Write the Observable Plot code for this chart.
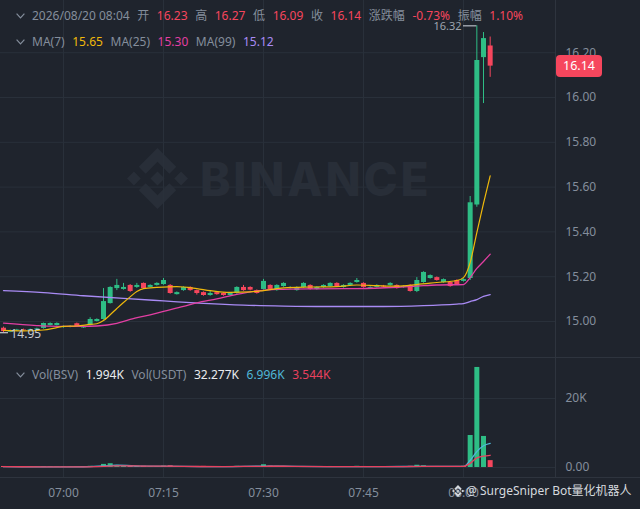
<!DOCTYPE html>
<html><head><meta charset="utf-8">
<script src="https://cdn.jsdelivr.net/npm/d3@7"></script>
<script src="https://cdn.jsdelivr.net/npm/@observablehq/plot@0.6"></script>
<style>
body{margin:0;background:#1F242D;}
#root{position:relative;width:640px;height:509px;overflow:hidden;background:#1F242D;font-family:"Noto Sans","Noto Sans CJK SC",sans-serif;}
.abs{position:absolute;}
.row{position:absolute;left:0;display:flex;align-items:center;font-size:12px;line-height:16px;white-space:nowrap;}
.row span{margin-right:7.6px}
.g{color:#848E9C}
</style></head>
<body><div id="root"></div>
<script>
// ---------- data ----------
const startTime = Date.UTC(2026, 7, 20, 6, 51); // first candle 06:51
const opens  = [14.970,14.952,14.958,14.962,14.959,14.963,14.969,14.982,14.982,14.973,14.974,14.990,14.971,14.982,15.000,15.009,15.080,15.147,15.143,15.161,15.152,15.170,15.152,15.161,15.165,15.161,15.120,15.138,15.152,15.138,15.129,15.116,15.129,15.125,15.116,15.125,15.152,15.152,15.138,15.143,15.161,15.138,15.156,15.148,15.138,15.152,15.161,15.143,15.152,15.156,15.170,15.152,15.161,15.174,15.170,15.148,15.152,15.158,15.161,15.161,15.152,15.161,15.134,15.174,15.192,15.196,15.174,15.174,15.183,15.179,15.192,15.520,16.178,16.230];
const highs  = [14.975,14.962,14.965,14.966,14.966,14.970,14.993,14.994,14.994,14.980,14.980,14.993,14.979,15.017,15.012,15.147,15.155,15.188,15.170,15.165,15.170,15.172,15.164,15.173,15.192,15.165,15.132,15.155,15.155,15.140,15.132,15.138,15.132,15.128,15.128,15.155,15.161,15.155,15.141,15.188,15.164,15.164,15.173,15.155,15.155,15.173,15.164,15.155,15.164,15.173,15.173,15.164,15.173,15.192,15.173,15.155,15.164,15.161,15.173,15.164,15.159,15.164,15.196,15.222,15.208,15.199,15.190,15.177,15.186,15.190,15.558,16.320,16.290,16.270];
const lows   = [14.950,14.950,14.955,14.956,14.956,14.960,14.966,14.980,14.980,14.970,14.972,14.976,14.969,14.980,14.998,15.006,15.078,15.138,15.140,15.130,15.148,15.145,15.150,15.158,15.162,15.122,15.118,15.135,15.135,15.118,15.113,15.113,15.117,15.113,15.113,15.122,15.135,15.137,15.122,15.140,15.140,15.135,15.153,15.145,15.135,15.149,15.140,15.140,15.149,15.153,15.153,15.149,15.158,15.171,15.149,15.145,15.149,15.151,15.158,15.144,15.149,15.131,15.129,15.171,15.189,15.180,15.171,15.153,15.162,15.176,15.183,15.510,15.973,16.090];
const closes = [14.955,14.958,14.962,14.959,14.963,14.967,14.991,14.991,14.991,14.978,14.978,14.978,14.977,15.009,15.009,15.089,15.152,15.161,15.152,15.134,15.161,15.147,15.161,15.170,15.183,15.125,15.129,15.152,15.138,15.125,15.116,15.125,15.120,15.116,15.125,15.152,15.138,15.140,15.125,15.179,15.143,15.161,15.170,15.152,15.152,15.170,15.143,15.152,15.161,15.170,15.156,15.161,15.170,15.183,15.152,15.152,15.161,15.154,15.170,15.147,15.156,15.134,15.183,15.219,15.205,15.183,15.187,15.156,15.165,15.187,15.530,16.165,16.263,16.140];
const volumes = [300,200,150,180,220,160,250,200,180,150,120,200,180,350,300,900,1100,600,400,450,300,350,250,280,400,500,300,250,280,300,320,250,200,260,220,350,300,280,300,800,400,350,300,200,250,300,280,220,250,300,260,200,250,350,300,200,250,180,250,300,150,350,650,500,250,300,250,280,300,350,9280,29000,9000,1994];

// moving-average lines (minutes after 07:00, value)
const ma7Min  = [-9,-6,-3,-1,0,2,4,5,6,7,8,9,10,11,12,14,17,20,22,25,28,30,33,37,41,44,47,50,53,56,59,60,61,62,63,64];
const ma7Val  = [14.960,14.958,14.962,14.973,14.978,14.980,14.987,14.990,15.004,15.030,15.058,15.085,15.110,15.134,15.147,15.152,15.156,15.147,15.138,15.130,15.132,15.138,15.150,15.154,15.156,15.163,15.160,15.158,15.165,15.174,15.183,15.196,15.263,15.397,15.527,15.650];
const ma25Min = [-9,-4,-2,0,3,5,8,10,13,15,18,20,23,26,29,32,38,44,50,53,56,60,61,62,63,64];
const ma25Val = [14.993,14.982,14.979,14.978,14.978,14.980,14.992,15.009,15.030,15.045,15.067,15.083,15.101,15.121,15.136,15.143,15.146,15.147,15.153,15.158,15.163,15.165,15.196,15.237,15.268,15.300];
const ma99Min = [-9,-3,3,9,15,21,27,33,39,48,54,59,60,61,62,63,64];
const ma99Val = [15.138,15.129,15.115,15.103,15.092,15.081,15.073,15.069,15.067,15.067,15.071,15.078,15.080,15.089,15.098,15.112,15.120];
const volMaMin  = [-9,-3,3,6,8,12,18,24,30,33,40,48,54,60,61,62,63,64];
const volMa5Val  = [230,200,220,450,650,380,300,260,420,380,260,240,330,300,2100,4600,6300,6996];
const volMa10Val = [240,210,210,330,480,420,320,270,350,360,280,250,300,300,1200,2800,3300,3544];

const priceTicks = [15.0,15.2,15.4,15.6,15.8,16.0,16.2];
const volTicks = [0, 20000];
const timeTickMin = [0,15,30,45,60];

const header1 = [["2026/08/20 08:04",null],["开","16.23"],["高","16.27"],["低","16.09"],["收","16.14"],["涨跌幅","-0.73%"],["振幅","1.10%"]];
const header2 = [["MA(7)","15.65","#F0B90B"],["MA(25)","15.30","#E23FA3"],["MA(99)","15.12","#A98BF5"]];
const header3 = [["Vol(BSV)","1.994K","#EAECEF"],["Vol(USDT)","32.277K","#EAECEF"],[null,"6.996K","#4FB8D8"],[null,"3.544K","#E8415F"]];

// ---------- build ----------
const UP = "#2EBD85", DOWN = "#F6465D", GRID = "#29303A", SEP = "#2E343E", AXIS = "#848E9C";
const FONT = '"Noto Sans","Noto Sans CJK SC",sans-serif';
const base = Date.UTC(2026, 7, 20, 7, 0);
const tm = m => new Date(base + m * 60000);
const candles = opens.map((o, i) => ({
  time: new Date(startTime + i * 60000), open: o, high: highs[i], low: lows[i], close: closes[i], vol: volumes[i],
  color: closes[i] >= o ? UP : DOWN
}));
const toPts = (ms, vs) => ms.map((m, i) => ({time: tm(m), v: vs[i]}));
const ma7 = toPts(ma7Min, ma7Val), ma25 = toPts(ma25Min, ma25Val), ma99 = toPts(ma99Min, ma99Val);
const vma5 = toPts(volMaMin, volMa5Val), vma10 = toPts(volMaMin, volMa10Val);
const timeTicks = timeTickMin.map(tm);
const xDomain = [tm(-9.45), tm(73.8)];

const hiIdx = d3.maxIndex(candles, d => d.high), loIdx = d3.minIndex(candles, d => d.low);
const hi = candles[hiIdx], lo = candles[loIdx];
const hiT = (hi.time - base) / 60000, loT = (lo.time - base) / 60000;

const root = document.getElementById("root");

// watermark
const wm = document.createElement("div");
wm.className = "abs";
wm.style.cssText = "left:127px;top:148px;display:flex;align-items:center;";
wm.innerHTML = `<svg width="61" height="61" viewBox="0 0 126.61 126.61"><g fill="#282E38"><path d="M38.73 53.2L63.3 28.63l24.59 24.58 14.3-14.3L63.3 0 24.43 38.9z"/><path d="M0 63.31l14.3-14.3 14.3 14.3-14.3 14.3z"/><path d="M38.73 73.41L63.3 97.99l24.59-24.59 14.31 14.29-38.9 38.91-38.88-38.88z"/><path d="M97.99 63.31l14.3-14.3 14.3 14.3-14.3 14.3z"/><path d="M77.83 63.3L63.3 48.76 48.77 63.29 63.3 77.82z"/></g></svg><span style="margin-left:12px;font-family:Inter,Roboto,sans-serif;font-weight:800;font-size:46px;letter-spacing:2.8px;color:#282E38;line-height:60px">BINANCE</span>`;
root.appendChild(wm);

const price = Plot.plot({
  width: 640, height: 357,
  marginTop: 0, marginBottom: 0, marginLeft: 0, marginRight: 85,
  style: {background: "transparent", color: AXIS, fontFamily: FONT, fontSize: "12px", overflow: "visible"},
  x: {type: "utc", domain: xDomain, axis: null},
  y: {domain: [15, 16.2], range: [321, 52.2], axis: null},
  marks: [
    Plot.gridX(timeTicks, {stroke: GRID, strokeOpacity: 1}),
    Plot.gridY(priceTicks, {stroke: GRID, strokeOpacity: 1}),
    Plot.axisY(priceTicks, {anchor: "right", tickSize: 0, tickPadding: 10, tickFormat: d3.format(".2f"), fill: AXIS, fontSize: 12}),
    Plot.ruleX(candles, {x: "time", y1: "low", y2: "high", stroke: "color", strokeWidth: 1}),
    Plot.ruleX(candles, {x: "time", y1: "open", y2: "close", stroke: "color", strokeWidth: 5}),
    Plot.line(ma99, {x: "time", y: "v", stroke: "#A98BF5", strokeWidth: 1.3, curve: "monotone-x"}),
    Plot.line(ma25, {x: "time", y: "v", stroke: "#E23FA3", strokeWidth: 1.3, curve: "monotone-x"}),
    Plot.line(ma7, {x: "time", y: "v", stroke: "#F0B90B", strokeWidth: 1.2, curve: "monotone-x"}),
    Plot.ruleY([hi], {y: "high", x1: () => tm(hiT - 2), x2: "time", stroke: "#B7BDC6", strokeWidth: 1.2}),
    Plot.text([hi], {x: () => tm(hiT - 2), y: "high", text: d => d.high.toFixed(2), textAnchor: "end", dx: -2, dy: 1, fill: "#9EA5AF", fontSize: 11}),
    Plot.ruleY([lo], {y: "low", x1: () => tm(loT - 0.5), x2: () => tm(loT + 0.75), stroke: "#C7CBD1", strokeWidth: 1.2}),
    Plot.text([lo], {x: () => tm(loT + 0.75), y: "low", text: d => d.low.toFixed(2), textAnchor: "start", dx: 2, dy: 1.5, fill: "#C7CBD1", fontSize: 12})
  ]
});
price.style.position = "absolute"; price.style.left = "0px"; price.style.top = "0px";
root.appendChild(price);

const vol = Plot.plot({
  width: 640, height: 152,
  marginTop: 0, marginBottom: 31, marginLeft: 0, marginRight: 85,
  style: {background: "transparent", color: AXIS, fontFamily: FONT, fontSize: "12px", overflow: "visible"},
  x: {type: "utc", domain: xDomain, axis: null},
  y: {domain: [0, 20000], range: [110, 41], axis: null},
  marks: [
    Plot.gridX(timeTicks, {stroke: GRID, strokeOpacity: 1}),
    Plot.gridY(volTicks, {stroke: GRID, strokeOpacity: 1}),
    Plot.ruleX(candles, {x: "time", y1: 0, y2: "vol", stroke: "color", strokeWidth: 5}),
    Plot.line(vma5, {x: "time", y: "v", stroke: "#4FB8D8", strokeWidth: 1.3, curve: "monotone-x"}),
    Plot.line(vma10, {x: "time", y: "v", stroke: "#E8415F", strokeWidth: 1.3, curve: "monotone-x"}),
    Plot.axisY(volTicks, {anchor: "right", tickSize: 0, tickPadding: 10, tickFormat: v => v === 0 ? "0.00" : (v / 1000) + "K", fill: AXIS, fontSize: 12}),
    Plot.axisX(timeTicks, {anchor: "bottom", tickSize: 0, tickPadding: 10, tickFormat: d3.utcFormat("%H:%M"), fill: AXIS, fontSize: 12})
  ]
});
vol.style.position = "absolute"; vol.style.left = "0px"; vol.style.top = "357px";
root.appendChild(vol);

// separators
function line(css) { const d = document.createElement("div"); d.className = "abs"; d.style.cssText = "background:" + SEP + ";" + css; root.appendChild(d); }
line("left:0;top:357px;width:640px;height:1px;");
line("left:0;top:477px;width:640px;height:1px;");
line("left:555px;top:0;width:1px;height:477px;");

// header rows
const chev = `<svg width="9" height="6" style="margin:0 7px 0 16px"><polyline points="0.6,0.6 4.5,4.8 8.4,0.6" fill="none" stroke="#848E9C" stroke-width="1.2"/></svg>`;
function row(top, items) {
  const d = document.createElement("div");
  d.className = "row"; d.style.top = top + "px";
  d.innerHTML = chev + items.map(([l, v, c]) => (l ? `<span class="g">${l}</span>` : "") + (v ? `<span style="color:${c}">${v}</span>` : "")).join("");
  root.appendChild(d);
}
row(8, header1.map(([l, v]) => [l, v, DOWN]));
row(34, header2);
row(367, header3);

// last price tag
const last = candles[candles.length - 1];
const yLast = price.scale("y").apply(last.close);
const tag = document.createElement("div");
tag.className = "abs";
tag.style.cssText = `left:556px;top:${yLast - 11}px;width:46px;height:22px;border-radius:4px;background:${DOWN};color:#fff;font-size:12.5px;line-height:22px;text-align:center;`;
tag.textContent = last.close.toFixed(2);
root.appendChild(tag);

// bottom-right credit
const cr = document.createElement("div");
cr.className = "abs";
cr.style.cssText = "left:452px;top:482px;display:flex;align-items:center;font-size:12px;line-height:18px;color:#D5D9DE;white-space:nowrap;";
cr.innerHTML = `<svg width="12" height="12" viewBox="0 0 126.61 126.61" style="margin-right:2px"><g fill="#D5D9DE"><path d="M38.73 53.2L63.3 28.63l24.59 24.58 14.3-14.3L63.3 0 24.43 38.9z"/><path d="M0 63.31l14.3-14.3 14.3 14.3-14.3 14.3z"/><path d="M38.73 73.41L63.3 97.99l24.59-24.59 14.31 14.29-38.9 38.91-38.88-38.88z"/><path d="M97.99 63.31l14.3-14.3 14.3 14.3-14.3 14.3z"/><path d="M77.83 63.3L63.3 48.76 48.77 63.29 63.3 77.82z"/></g></svg><span>@ SurgeSniper Bot量化机器人</span>`;
root.appendChild(cr);
</script>
</body></html>
